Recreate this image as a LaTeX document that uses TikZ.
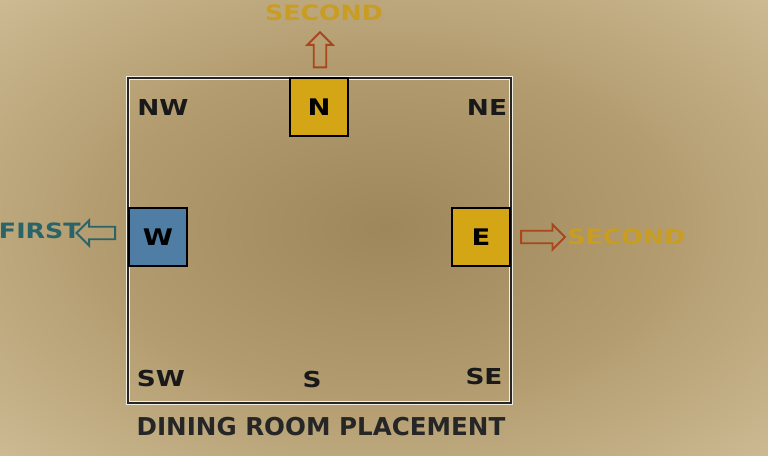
\documentclass[tikz,border=0pt]{standalone}
\usepackage{fontspec}
\newfontfamily\roomfont{DejaVu Sans}[FakeStretch=1.2]
\newfontfamily\titlefont{DejaVu Sans}
\usetikzlibrary{shapes.arrows}
\definecolor{tandark}{HTML}{9E875A}
\definecolor{tanmid}{HTML}{B29B6E}
\definecolor{tanlight}{HTML}{D3C29C}
\definecolor{tanedge}{HTML}{E4D8BE}
\definecolor{goldbox}{HTML}{D4A514}
\definecolor{bluebox}{HTML}{4F7DA3}
\definecolor{secondtxt}{HTML}{C99C22}
\definecolor{firsttxt}{HTML}{2A6468}
\definecolor{rustarrow}{HTML}{A8461E}
\pgfdeclareradialshading{vignette}{\pgfpoint{0bp}{0bp}}{color(0bp)=(tandark); color(18bp)=(tanmid); color(40bp)=(tanlight); color(72bp)=(tanedge)}
\tikzset{
  dirlabel/.style={font=\roomfont\bfseries\fontsize{12.5}{14}\selectfont, text=black!90},
  dirbox/.style={draw=black, line width=1.3pt, minimum size=33pt, inner sep=0pt,
    font=\roomfont\bfseries\fontsize{13}{14}\selectfont},
  hollowarrow/.style={single arrow, draw, line width=1.1pt, fill=none, inner sep=3pt,
    minimum height=#1, single arrow head extend=3.6pt, single arrow tip angle=90},
  gotext/.style={font=\roomfont\bfseries\fontsize{12}{14}\selectfont, inner sep=0pt}
}
\begin{document}
\begin{tikzpicture}[x=0.02cm, y=-0.02cm]
 \useasboundingbox (0,0) rectangle (768,456);
 \shade[shading=vignette] (0,0) rectangle (768,456);
 \draw[white!70!tanlight, line width=2.4pt] (128,78) rectangle (511,403);
 \draw[black!85, line width=1.1pt] (128,78) rectangle (511,403);
 % corners and sides
 \node[dirlabel] (nw) at (163,107) {NW};
 \node[dirlabel] (ne) at (487,107) {NE};
 \node[dirlabel] (sw) at (161,379) {SW};
 \node[dirlabel] (s) at (312,380) {S};
 \node[dirlabel] (se) at (484,377) {SE};
 \node[dirbox, fill=goldbox] (n) at (319,107) {N};
 \node[dirbox, fill=bluebox] (w) at (158,237) {W};
 \node[dirbox, fill=goldbox] (e) at (481,237) {E};
 % where the seats go
 \node[hollowarrow=20pt, draw=rustarrow, rotate=90] (upar) at (320,53) {};
 \node[gotext, text=secondtxt] (sectop) at (324,13) {SECOND};
 \node[hollowarrow=22pt, draw=firsttxt, shape border rotate=180] (leftar) at (99,233) {};
 \node[gotext, text=firsttxt, anchor=east] (first) at (81,231) {FIRST};
 \node[hollowarrow=25pt, draw=rustarrow] (rightar) at (540,237) {};
 \node[gotext, text=secondtxt, anchor=west] (secright) at (567,237) {SECOND};
 \node[font=\titlefont\bfseries\fontsize{14}{16}\selectfont, text=black!85] (title) at (321,427) {DINING ROOM PLACEMENT};
\end{tikzpicture}
\end{document}
